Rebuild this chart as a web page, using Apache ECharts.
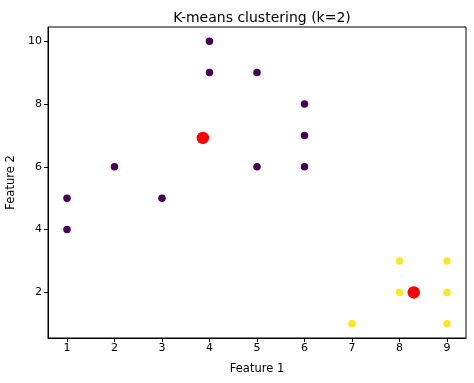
<!DOCTYPE html>
<html><head><meta charset="utf-8">
<script src="https://cdn.jsdelivr.net/npm/echarts@6/dist/echarts.min.js"></script>
<style>html,body{margin:0;padding:0;background:#fff}#c{width:474px;height:383px}</style>
</head><body><div id="c"></div>
<script>
const cluster0 = [[1,5],[1,4],[2,6],[3,5],[4,10],[4,9],[5,9],[5,6],[6,8],[6,7],[6,6]];
const cluster1 = [[7,1],[8,3],[8,2],[9,3],[9,2],[9,1]];
const centroids = [[3.86,6.92],[8.3,2.0]];
const xTicks = [1,2,3,4,5,6,7,8,9];
const yTicks = [2,4,6,8,10];

const font = 'DejaVu Sans';
const chart = echarts.init(document.getElementById('c'), null, {renderer:'canvas'});
chart.setOption({
  animation:false,
  backgroundColor:'#fff',
  title:{text:'K-means clustering (k=2)', left:257, top:6, textAlign:'center',
    textStyle:{fontFamily:font, fontSize:14, fontWeight:'normal', color:'#000'}},
  grid:{left:48, right:8, top:27, bottom:45, containLabel:false, outerBoundsMode:'none',
    show:true, borderColor:'#000', borderWidth:1, backgroundColor:'transparent'},
  xAxis:{type:'value', min:0.6, max:9.4,
    name:'Feature 1', nameLocation:'middle', nameGap:25,
    nameTextStyle:{fontFamily:font, fontSize:11.5, color:'#000'},
    axisLine:{show:true, lineStyle:{color:'#000', width:1}},
    axisTick:{show:true, length:4, lineStyle:{color:'#000'}, customValues:xTicks},
    axisLabel:{fontFamily:font, fontSize:11, color:'#000', margin:5, customValues:xTicks, showMinLabel:true, showMaxLabel:true},
    splitLine:{show:false}},
  yAxis:{type:'value', min:0.55, max:10.45,
    name:'Feature 2', nameLocation:'middle', nameGap:30, nameRotate:90,
    nameTextStyle:{fontFamily:font, fontSize:11.5, color:'#000'},
    axisLine:{show:true, lineStyle:{color:'#000', width:1}},
    axisTick:{show:true, length:4, lineStyle:{color:'#000'}, customValues:yTicks},
    axisLabel:{fontFamily:font, fontSize:11, color:'#000', margin:6, customValues:yTicks},
    splitLine:{show:false}},
  series:[
    {type:'scatter', data:cluster0, symbolSize:7.5, itemStyle:{color:'#440154', opacity:1}},
    {type:'scatter', data:cluster1, symbolSize:7.5, itemStyle:{color:'#fde725', opacity:1}},
    {type:'scatter', data:centroids, symbolSize:12.5, itemStyle:{color:'#ff0000', opacity:1}, z:3}
  ]
});
</script></body></html>
